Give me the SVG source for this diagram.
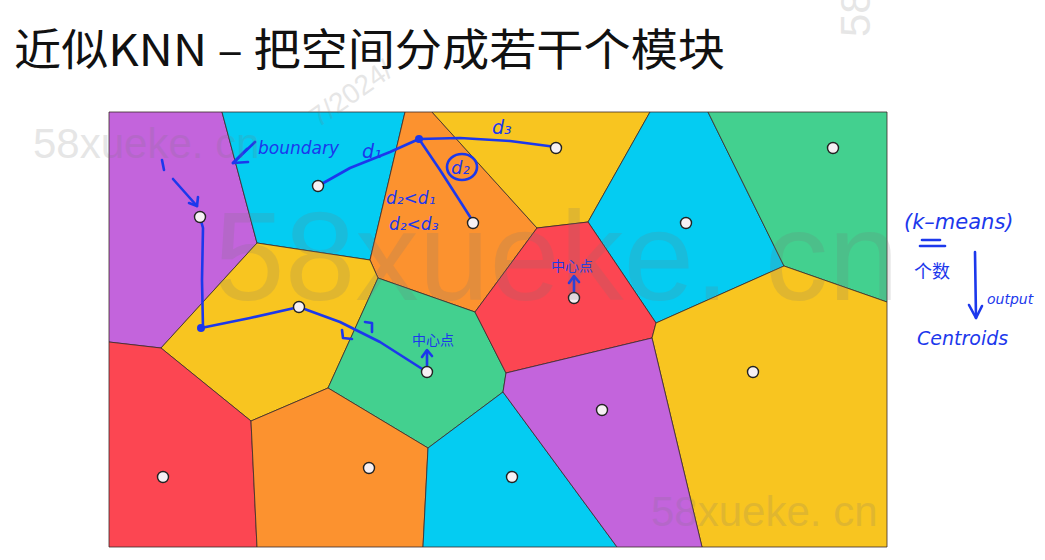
<svg xmlns="http://www.w3.org/2000/svg" width="1045" height="560" viewBox="0 0 1045 560">
<style>
.cell{stroke:#3a2a2a;stroke-width:0.8;stroke-linejoin:round}
.pur{fill:#c364dc}.cya{fill:#04ccf2}.ora{fill:#fc922f}.yel{fill:#f8c520}.gre{fill:#43d08f}.red{fill:#fc4652}
.pt{fill:#f6f0f4;stroke:#222;stroke-width:1.4}
.ink{fill:none;stroke:#1c38ec;stroke-width:2.6;stroke-linecap:round;stroke-linejoin:round}
.hand{fill:#1c38ec;font-family:"DejaVu Sans","Noto Sans CJK SC",sans-serif;font-style:italic}
.cjk{fill:#1c38ec;font-family:"Noto Sans CJK SC",sans-serif}
.wm{fill:#777;opacity:0.18;font-family:"Liberation Sans",Arial,sans-serif}
</style>
<rect width="1045" height="560" fill="#ffffff"/>
<text x="14" y="66" font-family="'Noto Sans CJK SC',sans-serif" font-size="44" fill="#111" textLength="711" lengthAdjust="spacingAndGlyphs">近似KNN – 把空间分成若干个模块</text>
<g id="cells">
<polygon id="cell-purple-top" class="cell pur" points="109,112 222,112 257,243 161,348 109,342"/>
<polygon id="cell-cyan-top" class="cell cya" points="222,112 405,112 370,260 257,243"/>
<polygon id="cell-orange-top" class="cell ora" points="405,112 432,112 537,228 475,312 378,278 370,260"/>
<polygon id="cell-yellow-top" class="cell yel" points="432,112 650,112 588,222 537,228"/>
<polygon id="cell-cyan-right" class="cell cya" points="650,112 708,112 784,266 656,323 588,222"/>
<polygon id="cell-green-right" class="cell gre" points="708,112 887,112 887,302 784,266"/>
<polygon id="cell-yellow-left" class="cell yel" points="257,243 370,260 378,278 328,388 251,421 161,348"/>
<polygon id="cell-green-center" class="cell gre" points="378,278 475,312 506,373 503,392 428,448 328,388"/>
<polygon id="cell-red-center" class="cell red" points="537,228 588,222 656,323 652,338 506,373 475,312"/>
<polygon id="cell-yellow-right" class="cell yel" points="656,323 784,266 887,302 887,547 702,547 652,338"/>
<polygon id="cell-red-left" class="cell red" points="109,342 161,348 251,421 257,547 109,547"/>
<polygon id="cell-orange-bottom" class="cell ora" points="251,421 328,388 428,448 423,547 257,547"/>
<polygon id="cell-cyan-bottom" class="cell cya" points="428,448 503,392 617,547 423,547"/>
<polygon id="cell-purple-bottom" class="cell pur" points="503,392 506,373 652,338 702,547 617,547"/>
</g>
<g id="connectors">
<polyline class="ink" points="318,186 350,168 390,152 419,139"/>
<polyline class="ink" points="419,139 460,138 510,141 556,147"/>
<polyline class="ink" points="419,139 440,170 458,198 474,223"/>
<polyline class="ink" points="200,217 203,228 202,280 203,328"/>
<polyline class="ink" points="201,328 250,318 299,307"/>
<polyline class="ink" points="299,307 340,322 380,342 427,372"/>
<polyline class="ink" points="342,330 343,338 352,339"/>
<polyline class="ink" points="365,322 372,323 372,332"/>
<polyline class="ink" points="162,160 164,170"/>
<polyline class="ink" points="173,179 197,206"/>
<polyline class="ink" points="189,203 197,206 198,197"/>
<polyline class="ink" points="255,142 233,163"/>
<polyline class="ink" points="247,149 233,163 248,162"/>
<polyline class="ink" points="427,369 427,351"/>
<polyline class="ink" points="422,357 427,350 432,356"/>
<polyline class="ink" points="574,296 574,277"/>
<polyline class="ink" points="569,283 574,276 579,282"/>
<polyline class="ink" points="975,252 976,318"/>
<polyline class="ink" points="969,305 976,318 982,306"/>
<polyline class="ink" points="922,240 940,240"/>
<polyline class="ink" points="920,246 945,246"/>
<ellipse class="ink" cx="462" cy="167" rx="15" ry="13"/>
<circle cx="419" cy="139" r="4" fill="#1c38ec"/>
<circle cx="201" cy="328" r="4" fill="#1c38ec"/>
</g>
<g id="points">
<circle class="pt" cx="200" cy="217" r="5.5"/>
<circle class="pt" cx="318" cy="186" r="5.5"/>
<circle class="pt" cx="473" cy="223" r="5.5"/>
<circle class="pt" cx="556" cy="148" r="5.5"/>
<circle class="pt" cx="686" cy="223" r="5.5"/>
<circle class="pt" cx="833" cy="148" r="5.5"/>
<circle class="pt" cx="299" cy="307" r="5.5"/>
<circle class="pt" cx="427" cy="372" r="5.5"/>
<circle class="pt" cx="574" cy="298" r="5.5"/>
<circle class="pt" cx="753" cy="372" r="5.5"/>
<circle class="pt" cx="163" cy="477" r="5.5"/>
<circle class="pt" cx="369" cy="468" r="5.5"/>
<circle class="pt" cx="512" cy="477" r="5.5"/>
<circle class="pt" cx="602" cy="410" r="5.5"/>
</g>
<g id="labels">
<text class="hand" x="258" y="154" font-size="17">boundary</text>
<text class="hand" x="362" y="158" font-size="19">d₁</text>
<text class="hand" x="492" y="134" font-size="19">d₃</text>
<text class="hand" x="451" y="174" font-size="18">d₂</text>
<text class="hand" x="386" y="204" font-size="17">d₂&lt;d₁</text>
<text class="hand" x="389" y="230" font-size="17">d₂&lt;d₃</text>
<text class="cjk" x="551" y="271" font-size="14">中心点</text>
<text class="cjk" x="412" y="345" font-size="14">中心点</text>
<text class="hand" x="904" y="229" font-size="21">(k–means)</text>
<text class="cjk" x="914" y="278" font-size="18">个数</text>
<text class="hand" x="987" y="304" font-size="14">output</text>
<text class="hand" x="917" y="345" font-size="19">Centroids</text>
</g>
<g id="watermarks">
<text class="wm" x="33" y="158" font-size="42">58xueke. cn</text>
<text class="wm" x="214" y="300" font-size="127">58xueke. cn</text>
<text class="wm" x="651" y="526" font-size="42">58xueke. cn</text>
<text class="wm" font-size="42" transform="translate(870,37) rotate(-90)">58</text>
<text class="wm" font-size="28" transform="translate(318,128) rotate(-35)">7/2024/</text>
</g>
</svg>
